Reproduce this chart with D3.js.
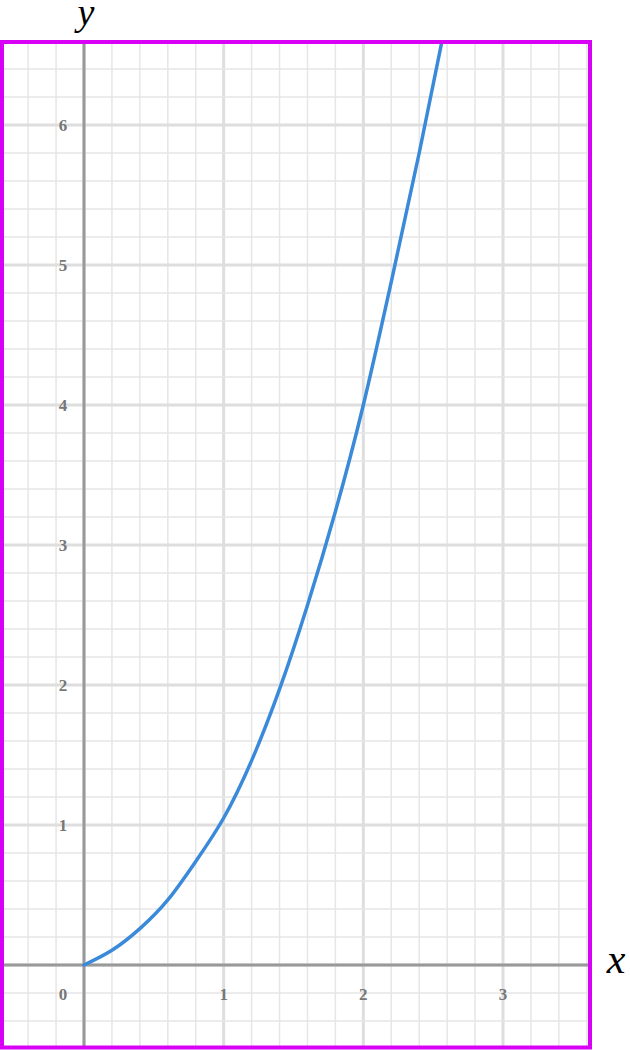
<!DOCTYPE html>
<html>
<head>
<meta charset="utf-8">
<script src="https://cdn.jsdelivr.net/npm/d3@7"></script>
<style>
  body { margin: 0; background: #fff; }
</style>
</head>
<body>
<div id="chart"></div>
<script>
// values
var xTicks = [0, 1, 2, 3];
var yTicks = [1, 2, 3, 4, 5, 6];
var curveX = [0, 0.2, 0.4, 0.6, 0.8, 1.0, 1.2, 1.4, 1.6, 1.8, 2.0, 2.2, 2.4, 2.6];
var curveY = [0, 0.105, 0.26, 0.465, 0.74, 1.05, 1.46, 1.97, 2.57, 3.24, 4.0, 4.88, 5.8, 6.78];

var width = 630, height = 1050;
var frame = {left: 2, top: 42, right: 590, bottom: 1047.5};

var svg = d3.select("#chart")
    .append("svg")
    .attr("width", width)
    .attr("height", height);

var x = d3.scaleLinear()
    .domain([0, 3])
    .range([84, 503]);

var y = d3.scaleLinear()
    .domain([0, 6])
    .range([965, 125]);

svg.append("clipPath")
    .attr("id", "clip")
    .append("rect")
    .attr("x", frame.left)
    .attr("y", frame.top)
    .attr("width", frame.right - frame.left)
    .attr("height", frame.bottom - frame.top);

var plot = svg.append("g").attr("clip-path", "url(#clip)");

// grid, minor every 0.2 and major every 1
var xGrid = d3.range(-6, 19).map(function (i) { return i / 5; });
var yGrid = d3.range(-5, 34).map(function (i) { return i / 5; });
function isMajor(d) { return Math.abs(d - Math.round(d)) < 1e-6; }

plot.append("g")
    .selectAll("line")
    .data(xGrid)
    .enter()
    .append("line")
    .attr("x1", function (d) { return x(d); })
    .attr("x2", function (d) { return x(d); })
    .attr("y1", frame.top)
    .attr("y2", frame.bottom)
    .attr("stroke", function (d) { return isMajor(d) ? "#dedede" : "#e6e6e6"; })
    .attr("stroke-width", function (d) { return isMajor(d) ? 3 : 1.5; });

plot.append("g")
    .selectAll("line")
    .data(yGrid)
    .enter()
    .append("line")
    .attr("y1", function (d) { return y(d); })
    .attr("y2", function (d) { return y(d); })
    .attr("x1", frame.left)
    .attr("x2", frame.right)
    .attr("stroke", function (d) { return isMajor(d) ? "#dedede" : "#e6e6e6"; })
    .attr("stroke-width", function (d) { return isMajor(d) ? 3 : 1.5; });

// axes
plot.append("line")
    .attr("x1", frame.left).attr("x2", frame.right)
    .attr("y1", y(0)).attr("y2", y(0))
    .attr("stroke", "#999").attr("stroke-width", 3);

plot.append("line")
    .attr("x1", x(0)).attr("x2", x(0))
    .attr("y1", frame.top).attr("y2", frame.bottom)
    .attr("stroke", "#999").attr("stroke-width", 3);

// tick labels
svg.append("g")
    .selectAll("text")
    .data(xTicks)
    .enter()
    .append("text")
    .attr("x", function (d) { return d === 0 ? x(0) - 21 : x(d); })
    .attr("y", y(0) + 29)
    .attr("dy", "0.35em")
    .attr("text-anchor", "middle")
    .style("font-family", "'Liberation Serif', 'DejaVu Serif', serif")
    .style("font-weight", "bold")
    .style("font-size", "17px")
    .style("fill", "#777")
    .text(function (d) { return d; });

svg.append("g")
    .selectAll("text")
    .data(yTicks)
    .enter()
    .append("text")
    .attr("x", x(0) - 21)
    .attr("y", function (d) { return y(d); })
    .attr("dy", "0.35em")
    .attr("text-anchor", "middle")
    .style("font-family", "'Liberation Serif', 'DejaVu Serif', serif")
    .style("font-weight", "bold")
    .style("font-size", "17px")
    .style("fill", "#777")
    .text(function (d) { return d; });

// the curve
var pts = curveX.map(function (d, i) { return [d, curveY[i]]; });
var line = d3.line()
    .x(function (d) { return x(d[0]); })
    .y(function (d) { return y(d[1]); })
    .curve(d3.curveNatural);

plot.append("path")
    .datum(pts)
    .attr("d", line)
    .attr("fill", "none")
    .attr("stroke", "#3a8ad9")
    .attr("stroke-width", 3.5)
    .attr("stroke-linecap", "round");

// frame
svg.append("rect")
    .attr("x", frame.left)
    .attr("y", frame.top)
    .attr("width", frame.right - frame.left)
    .attr("height", frame.bottom - frame.top)
    .attr("fill", "none")
    .attr("stroke", "#d800f5")
    .attr("stroke-width", 4);

// axis names
svg.append("text")
    .attr("x", 86)
    .attr("y", 25)
    .attr("text-anchor", "middle")
    .style("font-family", "'Liberation Serif', 'DejaVu Serif', serif")
    .style("font-style", "italic")
    .style("font-size", "38px")
    .text("y");

svg.append("text")
    .attr("x", 616)
    .attr("y", 973)
    .attr("text-anchor", "middle")
    .style("font-family", "'Liberation Serif', 'DejaVu Serif', serif")
    .style("font-style", "italic")
    .style("font-size", "42px")
    .text("x");
</script>
</body>
</html>
